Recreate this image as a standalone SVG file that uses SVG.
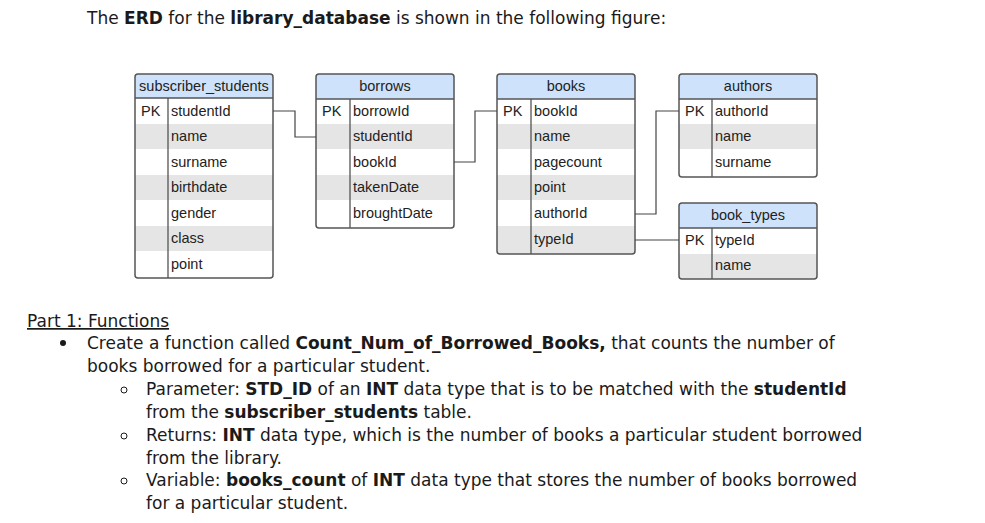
<svg xmlns="http://www.w3.org/2000/svg" width="985" height="523" viewBox="0 0 985 523">
<style>
.t{font-family:"DejaVu Sans",sans-serif;font-size:17px;fill:#1a1a1a}
.b{font-weight:bold}
.f{font-family:"Liberation Sans",Arial,sans-serif;font-size:14.5px;fill:#222}
.h{fill:#cfe2fb}
.g{fill:#e5e5e5}
.box{fill:none;stroke:#555;stroke-width:1.5}
.ln{stroke:#555;stroke-width:1.3;fill:none}
.c{fill:none;stroke:#444;stroke-width:1.2}
</style>
<rect width="985" height="523" fill="#fff"/>
<text class="t" x="87" y="24">The <tspan class="b">ERD</tspan> for the <tspan class="b">library_database</tspan> is shown in the following figure:</text>

<g id="subscriber_students">
<rect x="135" y="74" width="138" height="204" rx="3" fill="#fff"/>
<rect class="h" x="135" y="74" width="138" height="24"/>
<rect class="g" x="135" y="124" width="138" height="25"/>
<rect class="g" x="135" y="175" width="138" height="25"/>
<rect class="g" x="135" y="226" width="138" height="25"/>
<rect class="box" x="135" y="74" width="138" height="204" rx="3"/>
<path class="ln" d="M135 98H273M168 98V278"/>
<text class="f" x="204" y="91" text-anchor="middle">subscriber_students</text>
<text class="f" x="141" y="116">PK</text>
<text class="f" x="171" y="116">studentId</text>
<text class="f" x="171" y="141">name</text>
<text class="f" x="171" y="167">surname</text>
<text class="f" x="171" y="192">birthdate</text>
<text class="f" x="171" y="218">gender</text>
<text class="f" x="171" y="243">class</text>
<text class="f" x="171" y="269">point</text>
</g>

<g id="borrows">
<rect x="316" y="74" width="138" height="154" rx="3" fill="#fff"/>
<rect class="h" x="316" y="74" width="138" height="25"/>
<rect class="g" x="316" y="124" width="138" height="25"/>
<rect class="g" x="316" y="175" width="138" height="25"/>
<rect class="box" x="316" y="74" width="138" height="154" rx="3"/>
<path class="ln" d="M316 99H454M350 99V228"/>
<text class="f" x="385" y="91" text-anchor="middle">borrows</text>
<text class="f" x="322" y="116">PK</text>
<text class="f" x="353" y="116">borrowId</text>
<text class="f" x="353" y="141">studentId</text>
<text class="f" x="353" y="167">bookId</text>
<text class="f" x="353" y="192">takenDate</text>
<text class="f" x="353" y="218">broughtDate</text>
</g>

<g id="books">
<rect x="497" y="74" width="138" height="180" rx="3" fill="#fff"/>
<rect class="h" x="497" y="74" width="138" height="25"/>
<rect class="g" x="497" y="124" width="138" height="25"/>
<rect class="g" x="497" y="175" width="138" height="25"/>
<rect class="g" x="497" y="226" width="138" height="28"/>
<rect class="box" x="497" y="74" width="138" height="180" rx="3"/>
<path class="ln" d="M497 99H635M531 99V254"/>
<text class="f" x="566" y="91" text-anchor="middle">books</text>
<text class="f" x="503" y="116">PK</text>
<text class="f" x="534" y="116">bookId</text>
<text class="f" x="534" y="141">name</text>
<text class="f" x="534" y="167">pagecount</text>
<text class="f" x="534" y="192">point</text>
<text class="f" x="534" y="218">authorId</text>
<text class="f" x="534" y="244">typeId</text>
</g>

<g id="authors">
<rect x="679" y="74" width="138" height="103" rx="3" fill="#fff"/>
<rect class="h" x="679" y="74" width="138" height="25"/>
<rect class="g" x="679" y="124" width="138" height="25"/>
<rect class="box" x="679" y="74" width="138" height="103" rx="3"/>
<path class="ln" d="M679 99H817M712 99V177"/>
<text class="f" x="748" y="91" text-anchor="middle">authors</text>
<text class="f" x="685" y="116">PK</text>
<text class="f" x="715" y="116">authorId</text>
<text class="f" x="715" y="141">name</text>
<text class="f" x="715" y="167">surname</text>
</g>

<g id="book_types">
<rect x="679" y="203" width="138" height="76" rx="3" fill="#fff"/>
<rect class="h" x="679" y="203" width="138" height="25"/>
<rect class="g" x="679" y="254" width="138" height="25"/>
<rect class="box" x="679" y="203" width="138" height="76" rx="3"/>
<path class="ln" d="M679 228H817M712 228V279"/>
<text class="f" x="748" y="220" text-anchor="middle">book_types</text>
<text class="f" x="685" y="245">PK</text>
<text class="f" x="715" y="245">typeId</text>
<text class="f" x="715" y="270">name</text>
</g>

<g id="connectors">
<path class="c" d="M273 111H295V137H316"/>
<path class="c" d="M454 162H475V111H497"/>
<path class="c" d="M635 214H656V111H679"/>
<path class="c" d="M635 240H679"/>
</g>

<text class="t" x="27" y="327" text-decoration="underline">Part 1: Functions</text>
<circle cx="63" cy="343" r="3" fill="#1a1a1a"/>
<text class="t" x="87" y="349">Create a function called <tspan class="b">Count_Num_of_Borrowed_Books,</tspan> that counts the number of</text>
<text class="t" x="87" y="372">books borrowed for a particular student.</text>
<g fill="none" stroke="#1a1a1a" stroke-width="1"><circle cx="124" cy="390" r="3"/><circle cx="124" cy="436" r="3"/><circle cx="124" cy="481" r="3"/></g>
<text class="t" x="146" y="395">Parameter:  <tspan class="b">STD_ID</tspan> of an <tspan class="b">INT</tspan> data type that is to be matched with the <tspan class="b">studentId</tspan></text>
<text class="t" x="146" y="418">from the <tspan class="b">subscriber_students</tspan> table.</text>
<text class="t" x="146" y="441">Returns: <tspan class="b">INT</tspan> data type, which is the number of books a particular student borrowed</text>
<text class="t" x="146" y="464">from the library.</text>
<text class="t" x="146" y="486">Variable:  <tspan class="b">books_count</tspan> of <tspan class="b">INT</tspan> data type that stores the number of books borrowed</text>
<text class="t" x="146" y="509">for a particular student.</text>
</svg>
